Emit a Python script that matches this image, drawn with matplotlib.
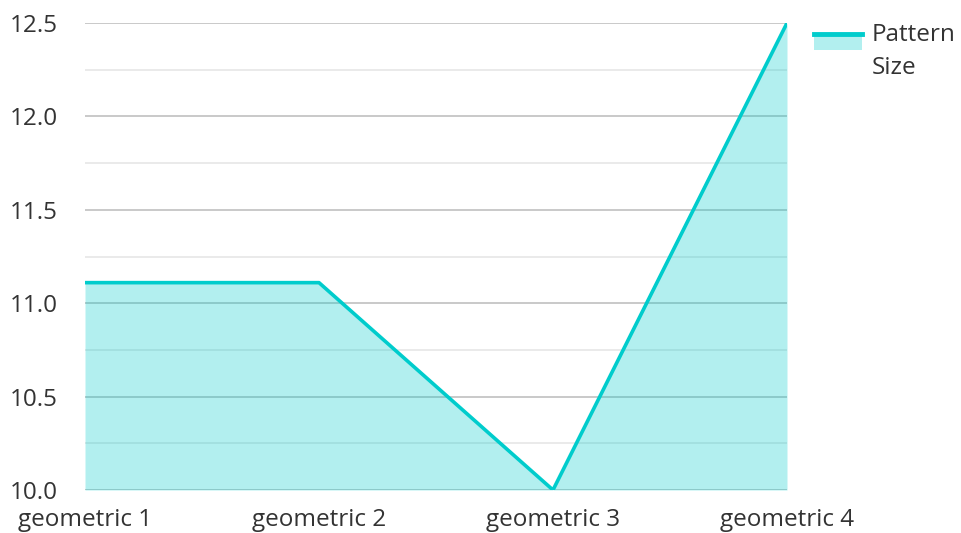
import matplotlib
matplotlib.use("Agg")
import matplotlib.pyplot as plt
from matplotlib.patches import Rectangle
from matplotlib.lines import Line2D
from matplotlib.ticker import MultipleLocator, FormatStrFormatter

categories = ["geometric 1", "geometric 2", "geometric 3", "geometric 4"]
values = [11.11, 11.11, 10.0, 12.5]
series_name = "Pattern\nSize"

line_color = "#00cccc"
text_color = "#333333"

plt.rcParams['font.family'] = ['Open Sans', 'DejaVu Sans']

fig = plt.figure(figsize=(9.61, 5.33), dpi=100)
ax = fig.add_axes([85/961, 1-490/533, (787-85)/961, (490-23)/533])

x = list(range(len(categories)))
ax.fill_between(x, values, 10.0, color=line_color, alpha=0.3, linewidth=0, zorder=2)
ax.plot(x, values, color=line_color, linewidth=2.6, zorder=3)

ax.set_xlim(0, len(categories)-1)
ax.set_ylim(10.0, 12.5)
ax.yaxis.set_major_locator(MultipleLocator(0.5))
ax.yaxis.set_minor_locator(MultipleLocator(0.25))
ax.grid(axis='y', which='major', color='#c0c0c0', linewidth=1.2, zorder=1)
ax.grid(axis='y', which='minor', color='#e6e6e6', linewidth=1.2, zorder=1)
ax.set_axisbelow(True)
ax.set_xticks(x)
ax.set_xticklabels(categories)
ax.yaxis.set_major_formatter(FormatStrFormatter('%.1f'))
ax.tick_params(axis='both', which='both', length=0, labelsize=17.5, labelcolor=text_color)
ax.tick_params(axis='y', pad=19.5)
ax.tick_params(axis='x', pad=13)
for s in ax.spines.values():
    s.set_visible(False)


class AreaLineHandler:
    def legend_artist(self, legend, orig_handle, fontsize, handlebox):
        x0, y0 = handlebox.xdescent, handlebox.ydescent
        w, h = handlebox.width, handlebox.height
        tr = handlebox.get_transform()
        yline = y0 + h * 0.5 + 13
        rect = Rectangle((x0, yline - 11.5), w, 11.5, facecolor=line_color,
                         alpha=0.3, linewidth=0, transform=tr)
        ln = Line2D([x0, x0 + w], [yline, yline], color=line_color,
                    linewidth=3.5, transform=tr)
        handlebox.add_artist(rect)
        handlebox.add_artist(ln)
        return ln


proxy = Line2D([], [], color=line_color)
leg = fig.legend([proxy], [series_name], loc='upper left',
                 bbox_to_anchor=(804/961, 1-13/533), frameon=False,
                 fontsize=17.5, labelcolor=text_color, handlelength=2.0,
                 handletextpad=0.4, borderaxespad=0,
                 handler_map={Line2D: AreaLineHandler()})
for t in leg.get_texts():
    t.set_linespacing(1.5)

fig.savefig("out.png", dpi=100)
